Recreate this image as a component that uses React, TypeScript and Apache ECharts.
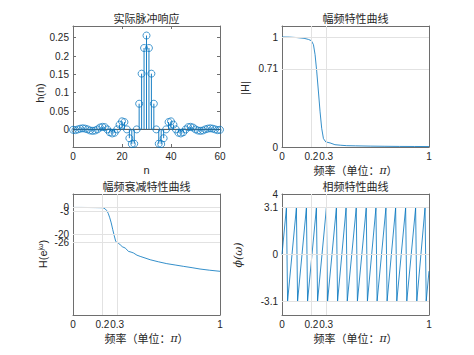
import React, { useEffect, useRef } from "react";
import * as echarts from "echarts";

// ---- data ----
const nIdx = Array.from({ length: 61 }, (_, i) => i);
const hVals = [
  -0.001, -0.002, 0.0, 0.002, 0.003, 0.002, 0.0, -0.003, -0.004, -0.003,
  0.0, 0.005, 0.007, 0.006, 0.0, -0.008, -0.011, -0.009, 0.0, 0.013,
  0.022, 0.02, 0.0, -0.024, -0.04, -0.039, 0.0, 0.07, 0.152, 0.222,
  0.256,
  0.222, 0.152, 0.07, 0.0, -0.039, -0.04, -0.024, 0.0, 0.02, 0.022,
  0.013, 0.0, -0.009, -0.011, -0.008, 0.0, 0.006, 0.007, 0.005, 0.0,
  -0.003, -0.004, -0.003, 0.0, 0.002, 0.003, 0.002, 0.0, -0.002, -0.001,
];

const magX = [0, 0.05, 0.1, 0.15, 0.18, 0.2, 0.214, 0.225, 0.236, 0.248, 0.259, 0.27, 0.282, 0.298, 0.327, 0.36, 0.4, 0.44, 0.5, 0.6, 0.7, 0.8, 0.9, 1];
const magY = [1, 0.999, 0.995, 0.988, 0.978, 0.966, 0.93, 0.84, 0.69, 0.5, 0.32, 0.17, 0.076, 0.046, 0.037, 0.021, 0.016, 0.012, 0.0105, 0.008, 0.0065, 0.0052, 0.0046, 0.0042];

const dbX = [0, 0.05, 0.1, 0.15, 0.2, 0.21, 0.22, 0.23, 0.24, 0.25, 0.26, 0.27, 0.28, 0.29, 0.3, 0.31, 0.321, 0.335, 0.355, 0.378, 0.395, 0.412, 0.435, 0.457, 0.49, 0.525, 0.58, 0.638, 0.7, 0.751, 0.81, 0.864, 0.93, 1];
const dbY = [0, 0, -0.05, -0.1, -0.2, -0.5, -1.2, -2.4, -4.5, -7.7, -11.5, -16.3, -20.8, -25, -26.3, -26.8, -27.7, -29.2, -30.2, -32.7, -33.2, -33.9, -35.5, -36.4, -37.6, -38.9, -40.4, -41.8, -42.9, -43.8, -44.8, -45.8, -46.7, -47.5];

const phasePeakX = [0.03, 0.098, 0.166, 0.234, 0.302, 0.37, 0.436, 0.505, 0.573, 0.639, 0.707, 0.773, 0.841, 0.909, 0.973];
const phaseTroughX = [0.038, 0.106, 0.174, 0.242, 0.31, 0.378, 0.444, 0.513, 0.581, 0.647, 0.715, 0.781, 0.849, 0.917, 0.981];
const phasePeak = 3.08;
const phaseTrough = -3.08;
const phaseStart = [0, 0];
const phaseEnd = [1, -1.1];

const freqTicks = [0, 0.2, 0.3, 1];
const hTicksY = [0, 0.05, 0.1, 0.15, 0.2, 0.25];
const nTicksX = [0, 20, 40, 60];
const magTicksY = [0, 0.71, 1];
const dbTicksY = [-26, -20, -3, 0];
const dbLabelsA = [-26, 0];
const dbLabelsB = [-20, -3];
const phaseTicksY = [-3.1, 0, 3.1, 4];

const BLUE = "#0072BD";
const AX = "#6e6e6e";
const TXT = "#262626";
const GRIDC = "#e2e2e2";
const FONT = "'Liberation Sans', Arial, sans-serif";
const CJK = "'Noto Sans CJK SC', sans-serif";

const grids = [
  { left: 73, top: 26, width: 147, height: 121 },
  { left: 282, top: 26, width: 147, height: 121 },
  { left: 73, top: 194, width: 147, height: 121 },
  { left: 282, top: 194, width: 147, height: 121 },
];

const labelStyle = { color: TXT, fontSize: 10, fontFamily: FONT, margin: 4, hideOverlap: false, showMinLabel: true, showMaxLabel: true };

function xAxes(gi: number, min: number, max: number, ticks: number[]) {
  const base = {
    type: "value",
    gridIndex: gi,
    min,
    max,
    splitLine: { show: false },
    axisLine: { show: true, onZero: false, lineStyle: { color: AX, width: 1 } },
  };
  return [
    {
      ...base,
      position: "bottom",
      axisTick: { show: true, inside: true, length: 3, customValues: ticks, lineStyle: { color: AX } },
      axisLabel: { show: true, customValues: ticks, ...labelStyle },
    },
    {
      ...base,
      position: "top",
      axisTick: { show: true, inside: true, length: 3, customValues: ticks, lineStyle: { color: AX } },
      axisLabel: { show: false },
    },
  ];
}

function yAxes(gi: number, min: number, max: number, ticks: number[], labels?: number[]) {
  const base = {
    type: "value",
    gridIndex: gi,
    min,
    max,
    splitLine: { show: false },
    axisLine: { show: true, onZero: false, lineStyle: { color: AX, width: 1 } },
  };
  return [
    {
      ...base,
      position: "left",
      axisTick: { show: true, inside: true, length: 3, customValues: ticks, lineStyle: { color: AX } },
      axisLabel: { show: true, customValues: labels || ticks, ...labelStyle },
    },
    {
      ...base,
      position: "right",
      axisTick: { show: true, inside: true, length: 3, customValues: ticks, lineStyle: { color: AX } },
      axisLabel: { show: false },
    },
  ];
}

function gridLines(gi: number, xs: number[], ys: number[]) {
  return {
    type: "line",
    xAxisIndex: gi * 2,
    yAxisIndex: gi * 2,
    data: [],
    z: 1,
    silent: true,
    markLine: {
      silent: true,
      symbol: ["none", "none"],
      label: { show: false },
      lineStyle: { color: GRIDC, type: "solid", width: 1 },
      emphasis: { disabled: true },
      data: [...xs.map((x) => ({ xAxis: x })), ...ys.map((y) => ({ yAxis: y }))],
    },
  };
}

function textEl(x: number, y: number, text: string, opts: any = {}) {
  return {
    type: "text",
    x,
    y,
    rotation: opts.rotation || 0,
    style: {
      text,
      fill: TXT,
      fontSize: opts.fontSize || 11,
      fontFamily: opts.fontFamily || CJK,
      fontStyle: opts.fontStyle || "normal",
      align: "center",
      verticalAlign: "middle",
      rich: opts.rich,
    },
  };
}

export default function App() {
  const ref = useRef<HTMLDivElement>(null);
  useEffect(() => {
    document.body.style.margin = "0";
    const chart = echarts.init(ref.current!, null, { renderer: "svg" });

    const phaseData: number[][] = [phaseStart];
    phasePeakX.forEach((px, i) => {
      phaseData.push([px, phasePeak]);
      phaseData.push([phaseTroughX[i], phaseTrough]);
    });
    phaseData.push(phaseEnd);

    const freqLabelRich = { i: { fontStyle: "italic", fontFamily: "'DejaVu Serif', serif", fontSize: 11, fill: TXT } };

    const option: any = {
      animation: false,
      backgroundColor: "#ffffff",
      grid: grids.map((g) => ({ ...g, containLabel: false })),
      xAxis: [
        ...xAxes(0, 0, 60, nTicksX),
        ...xAxes(1, 0, 1, freqTicks),
        ...xAxes(2, 0, 1, freqTicks),
        ...xAxes(3, 0, 1, freqTicks),
      ],
      yAxis: [
        ...yAxes(0, -0.048, 0.282, hTicksY),
        ...yAxes(1, 0, 1.1, magTicksY),
        ...yAxes(2, -80, 10, dbTicksY, dbLabelsA),
        ...yAxes(3, -4, 4, phaseTicksY),
        // extra label-only axis for the dB plot, on the left side
        {
          type: "value",
          gridIndex: 2,
          position: "left",
          offset: 0,
          min: -80,
          max: 10,
          splitLine: { show: false },
          axisLine: { show: false, onZero: false },
          axisTick: { show: false },
          axisLabel: { show: true, customValues: dbLabelsB, ...labelStyle },
        },
      ],
      series: [
        // subplot 1: stem
        {
          type: "line",
          xAxisIndex: 0,
          yAxisIndex: 0,
          data: [
            [nIdx[0], 0],
            [nIdx[nIdx.length - 1], 0],
          ],
          showSymbol: false,
          lineStyle: { color: "#4d4d4d", width: 1 },
          silent: true,
          z: 2,
        },
        {
          type: "custom",
          xAxisIndex: 0,
          yAxisIndex: 0,
          data: nIdx.map((n, i) => [n, hVals[i]]),
          encode: { x: 0, y: 1 },
          z: 3,
          silent: true,
          renderItem: (params: any, api: any) => {
            const x = api.value(0);
            const y = api.value(1);
            const p0 = api.coord([x, 0]);
            const p1 = api.coord([x, y]);
            return {
              type: "line",
              shape: { x1: p0[0], y1: p0[1], x2: p1[0], y2: p1[1] },
              style: { stroke: BLUE, lineWidth: 0.9 },
            };
          },
        },
        {
          type: "scatter",
          xAxisIndex: 0,
          yAxisIndex: 0,
          data: nIdx.map((n, i) => [n, hVals[i]]),
          symbol: "circle",
          symbolSize: 7,
          itemStyle: { color: "rgba(0,0,0,0)", borderColor: BLUE, borderWidth: 0.9 },
          silent: true,
          z: 4,
        },
        // subplot 2
        gridLines(1, [0.2, 0.3], [0.71, 1]),
        {
          type: "line",
          xAxisIndex: 2,
          yAxisIndex: 2,
          data: magX.map((x, i) => [x, magY[i]]),
          showSymbol: false,
          lineStyle: { color: BLUE, width: 0.8 },
          silent: true,
          z: 3,
        },
        // subplot 3
        gridLines(2, [0.2, 0.3], [0, -3, -20, -26]),
        {
          type: "line",
          xAxisIndex: 4,
          yAxisIndex: 4,
          data: dbX.map((x, i) => [x, dbY[i]]),
          showSymbol: false,
          lineStyle: { color: BLUE, width: 0.8 },
          silent: true,
          z: 3,
        },
        // subplot 4
        gridLines(3, [0.2, 0.3], [-3.1, 0, 3.1]),
        {
          type: "line",
          xAxisIndex: 6,
          yAxisIndex: 6,
          data: phaseData,
          showSymbol: false,
          lineStyle: { color: BLUE, width: 0.8 },
          silent: true,
          z: 3,
        },
      ],
      graphic: [
        textEl(146.5, 18, "实际脉冲响应"),
        textEl(355.5, 18, "幅频特性曲线"),
        textEl(146.5, 186, "幅频衰减特性曲线"),
        textEl(355.5, 186, "相频特性曲线"),
        textEl(146.5, 170, "n", { fontFamily: FONT }),
        textEl(355.5, 170, "频率（单位：{i|π}）", { rich: freqLabelRich }),
        textEl(146.5, 338, "频率（单位：{i|π}）", { rich: freqLabelRich }),
        textEl(355.5, 338, "频率（单位：{i|π}）", { rich: freqLabelRich }),
        textEl(40, 93, "h(n)", { rotation: Math.PI / 2, fontFamily: FONT }),
        textEl(245, 88, "|H|", { rotation: Math.PI / 2, fontFamily: FONT }),
        textEl(43, 254, "H(e{s|jω})", {
          rotation: Math.PI / 2,
          fontFamily: FONT,
          rich: { s: { fontSize: 7, fontFamily: FONT, fill: TXT, verticalAlign: "top", padding: [0, 0, 6, 0] } },
        }),
        textEl(238, 255, "ϕ(ω)", { rotation: Math.PI / 2, fontFamily: "'DejaVu Serif', serif", fontStyle: "italic" }),
      ],
    };
    chart.setOption(option);
    return () => chart.dispose();
  }, []);
  return <div ref={ref} style={{ width: 474, height: 355 }} />;
}
